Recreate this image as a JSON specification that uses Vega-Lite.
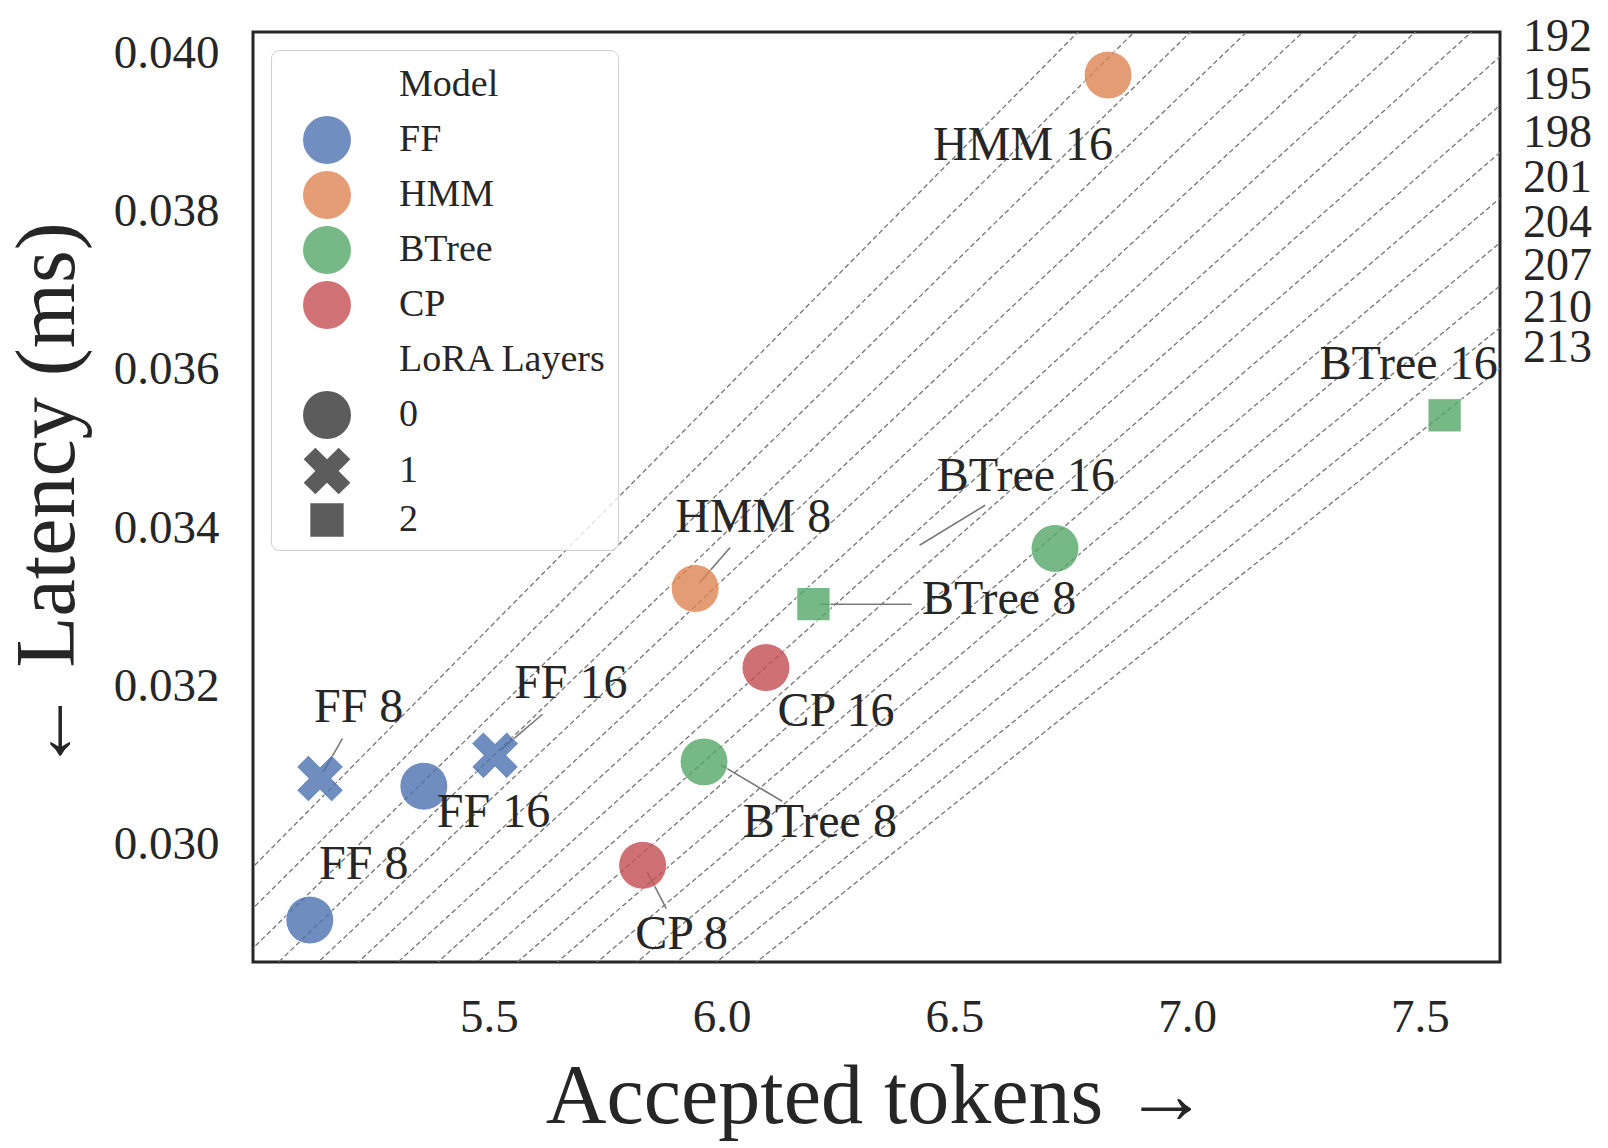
{
  "$schema": "https://vega.github.io/schema/vega-lite/v6.json",
  "width": 1247,
  "height": 930,
  "autosize": {"type": "none"},
  "padding": {"left": 253, "top": 32, "right": 108, "bottom": 186},
  "background": "white",
  "config": {
    "view": {"stroke": "#262626", "strokeWidth": 3},
    "font": "Liberation Serif",
    "axis": {
      "domain": false, "ticks": false, "grid": false,
      "labelFont": "Liberation Serif", "labelFontSize": 47, "labelColor": "#262626",
      "titleFont": "Liberation Serif", "titleFontSize": 84, "titleFontWeight": "normal", "titleColor": "#262626"
    }
  },
  "datasets": {
    "points": [
      {"model": "FF", "lora": "0", "n": 8, "tokens": 5.115, "latency": 0.02905, "label": "FF 8", "lx": 5.135, "ly": 0.029574},
      {"model": "FF", "lora": "0", "n": 16, "tokens": 5.360, "latency": 0.030741, "label": "FF 16", "lx": 5.388, "ly": 0.030227},
      {"model": "FF", "lora": "1", "n": 8, "tokens": 5.137, "latency": 0.030838, "label": "FF 8", "lx": 5.124, "ly": 0.031554},
      {"model": "FF", "lora": "1", "n": 16, "tokens": 5.513, "latency": 0.031132, "label": "FF 16", "lx": 5.554, "ly": 0.031861},
      {"model": "HMM", "lora": "0", "n": 8, "tokens": 5.943, "latency": 0.033239, "label": "HMM 8", "lx": 5.900, "ly": 0.033955},
      {"model": "HMM", "lora": "0", "n": 16, "tokens": 6.830, "latency": 0.039726, "label": "HMM 16", "lx": 6.454, "ly": 0.038653},
      {"model": "BTree", "lora": "0", "n": 8, "tokens": 5.962, "latency": 0.031048, "label": "BTree 8", "lx": 6.045, "ly": 0.030100},
      {"model": "BTree", "lora": "0", "n": 16, "tokens": 6.716, "latency": 0.033745, "label": "BTree 16", "lx": 6.462, "ly": 0.034473},
      {"model": "BTree", "lora": "2", "n": 8, "tokens": 6.197, "latency": 0.033041, "label": "BTree 8", "lx": 6.430, "ly": 0.032922},
      {"model": "BTree", "lora": "2", "n": 16, "tokens": 7.553, "latency": 0.035427, "label": "BTree 16", "lx": 7.284, "ly": 0.035881},
      {"model": "CP", "lora": "0", "n": 8, "tokens": 5.830, "latency": 0.029742, "label": "CP 8", "lx": 5.814, "ly": 0.028689},
      {"model": "CP", "lora": "0", "n": 16, "tokens": 6.095, "latency": 0.032240, "label": "CP 16", "lx": 6.120, "ly": 0.031499}
    ],
    "iso": [
      {"k": 168, "x1": 4.9, "y1": 0.0291667, "x2": 7.8, "y2": 0.0464286},
      {"k": 171, "x1": 4.9, "y1": 0.0286550, "x2": 7.8, "y2": 0.0456140},
      {"k": 174, "x1": 4.9, "y1": 0.0281609, "x2": 7.8, "y2": 0.0448276},
      {"k": 177, "x1": 4.9, "y1": 0.0276836, "x2": 7.8, "y2": 0.0440678},
      {"k": 180, "x1": 4.9, "y1": 0.0272222, "x2": 7.8, "y2": 0.0433333},
      {"k": 183, "x1": 4.9, "y1": 0.0267760, "x2": 7.8, "y2": 0.0426230},
      {"k": 186, "x1": 4.9, "y1": 0.0263441, "x2": 7.8, "y2": 0.0419355},
      {"k": 189, "x1": 4.9, "y1": 0.0259259, "x2": 7.8, "y2": 0.0412698},
      {"k": 192, "x1": 4.9, "y1": 0.0255208, "x2": 7.8, "y2": 0.0406250},
      {"k": 195, "x1": 4.9, "y1": 0.0251282, "x2": 7.8, "y2": 0.0400000},
      {"k": 198, "x1": 4.9, "y1": 0.0247475, "x2": 7.8, "y2": 0.0393939},
      {"k": 201, "x1": 4.9, "y1": 0.0243781, "x2": 7.8, "y2": 0.0388060},
      {"k": 204, "x1": 4.9, "y1": 0.0240196, "x2": 7.8, "y2": 0.0382353},
      {"k": 207, "x1": 4.9, "y1": 0.0236715, "x2": 7.8, "y2": 0.0376812},
      {"k": 210, "x1": 4.9, "y1": 0.0233333, "x2": 7.8, "y2": 0.0371429},
      {"k": 213, "x1": 4.9, "y1": 0.0230047, "x2": 7.8, "y2": 0.0366197}
    ],
    "isoLabels": [
      {"k": 192, "x": 7.672, "y": 0.0399583},
      {"k": 195, "x": 7.672, "y": 0.0393436},
      {"k": 198, "x": 7.672, "y": 0.0387475},
      {"k": 201, "x": 7.672, "y": 0.0381692},
      {"k": 204, "x": 7.672, "y": 0.0376078},
      {"k": 207, "x": 7.672, "y": 0.0370628},
      {"k": 210, "x": 7.672, "y": 0.0365333},
      {"k": 213, "x": 7.672, "y": 0.0360188}
    ],
    "leaders": [
      {"x1": 6.018, "y1": 0.033756, "x2": 5.952, "y2": 0.033310},
      {"x1": 6.211, "y1": 0.033040, "x2": 6.408, "y2": 0.033040},
      {"x1": 6.425, "y1": 0.033786, "x2": 6.566, "y2": 0.034291},
      {"x1": 5.999, "y1": 0.031007, "x2": 6.130, "y2": 0.030551},
      {"x1": 5.840, "y1": 0.029658, "x2": 5.881, "y2": 0.029194},
      {"x1": 5.144, "y1": 0.030921, "x2": 5.185, "y2": 0.031343},
      {"x1": 5.524, "y1": 0.031195, "x2": 5.615, "y2": 0.031650}
    ]
  },
  "layer": [
    {
      "data": {"name": "iso"},
      "mark": {"type": "rule", "clip": true, "color": "#757575", "strokeWidth": 1.3, "strokeDash": [5, 3]},
      "encoding": {
        "x": {"field": "x1", "type": "quantitative", "scale": {"domain": [4.993, 7.672], "nice": false, "zero": false}},
        "y": {"field": "y1", "type": "quantitative", "scale": {"domain": [0.02852, 0.04027], "nice": false, "zero": false}},
        "x2": {"field": "x2"},
        "y2": {"field": "y2"}
      }
    },
    {
      "data": {"name": "isoLabels"},
      "mark": {"type": "text", "align": "left", "baseline": "alphabetic", "dx": 23, "dy": -6, "fontSize": 46, "font": "Liberation Serif", "color": "#262626"},
      "encoding": {
        "x": {"field": "x", "type": "quantitative", "scale": {"domain": [4.993, 7.672], "nice": false, "zero": false}},
        "y": {"field": "y", "type": "quantitative", "scale": {"domain": [0.02852, 0.04027], "nice": false, "zero": false}},
        "text": {"field": "k", "type": "quantitative"}
      }
    },
    {
      "mark": {"type": "rect", "color": "#eef5fc"},
      "encoding": {
        "x": {"datum": 6.0396, "type": "quantitative", "scale": {"domain": [4.993, 7.672], "nice": false, "zero": false}},
        "x2": {"datum": 6.3775},
        "y": {"datum": 0.0305, "type": "quantitative", "scale": {"domain": [0.02852, 0.04027], "nice": false, "zero": false}},
        "y2": {"datum": 0.029953}
      }
    },
    {
      "data": {"name": "leaders"},
      "mark": {"type": "rule", "color": "#7a7a7a", "strokeWidth": 1.6},
      "encoding": {
        "x": {"field": "x1", "type": "quantitative", "scale": {"domain": [4.993, 7.672], "nice": false, "zero": false}},
        "y": {"field": "y1", "type": "quantitative", "scale": {"domain": [0.02852, 0.04027], "nice": false, "zero": false}},
        "x2": {"field": "x2"},
        "y2": {"field": "y2"}
      }
    },
    {
      "data": {"name": "points"},
      "mark": {"type": "point", "filled": true, "opacity": 0.8, "stroke": "white", "strokeWidth": 1},
      "encoding": {
        "x": {
          "field": "tokens", "type": "quantitative",
          "scale": {"domain": [4.993, 7.672], "nice": false, "zero": false},
          "axis": {"title": "Accepted tokens →", "values": [5.5, 6, 6.5, 7, 7.5], "format": ".1f", "labelPadding": 32, "titlePadding": 16, "labelFlush": false}
        },
        "y": {
          "field": "latency", "type": "quantitative",
          "scale": {"domain": [0.02852, 0.04027], "nice": false, "zero": false},
          "axis": {"title": "← Latency (ms)", "values": [0.030, 0.032, 0.034, 0.036, 0.038, 0.040], "format": ".3f", "labelPadding": 34, "titlePadding": 22, "labelFlush": false}
        },
        "color": {
          "field": "model", "type": "nominal",
          "scale": {"domain": ["FF", "HMM", "BTree", "CP"], "range": ["#4c72b0", "#dd8452", "#55a868", "#c44e52"]},
          "legend": null
        },
        "shape": {
          "field": "lora", "type": "nominal",
          "scale": {"domain": ["0", "1", "2"], "range": ["circle", "M0.471,-0.943L0.943,-0.471L0.471,0L0.943,0.471L0.471,0.943L0,0.471L-0.471,0.943L-0.943,0.471L-0.471,0L-0.943,-0.471L-0.471,-0.943L0,-0.471Z", "square"]},
          "legend": null
        },
        "size": {
          "field": "lora", "type": "nominal",
          "scale": {"type": "ordinal", "domain": ["0", "1", "2"], "range": [2300, 2450, 1110]},
          "legend": null
        }
      }
    },
    {
      "data": {"name": "points"},
      "mark": {"type": "text", "align": "left", "baseline": "alphabetic", "fontSize": 48, "font": "Liberation Serif", "color": "#262626"},
      "encoding": {
        "x": {"field": "lx", "type": "quantitative", "scale": {"domain": [4.993, 7.672], "nice": false, "zero": false}},
        "y": {"field": "ly", "type": "quantitative", "scale": {"domain": [0.02852, 0.04027], "nice": false, "zero": false}},
        "text": {"field": "label", "type": "nominal"}
      }
    },
    {
      "data": {"values": []},
      "mark": {"type": "point", "filled": true, "opacity": 0.8},
      "encoding": {
        "color": {
          "field": "entry", "type": "nominal",
          "scale": {
            "domain": ["Model", "FF", "HMM", "BTree", "CP", "LoRA Layers", "0", "1", "2"],
            "range": ["rgba(0,0,0,0)", "#4c72b0", "#dd8452", "#55a868", "#c44e52", "rgba(0,0,0,0)", "#333333", "#333333", "#333333"]
          },
          "legend": {
            "title": null, "orient": "top-left", "offset": 18, "padding": 11,
            "fillColor": "rgba(255,255,255,0.8)", "strokeColor": "#d0d0d0", "cornerRadius": 8,
            "labelFont": "Liberation Serif", "labelFontSize": 38, "labelColor": "#262626", "labelLimit": 400,
            "symbolStrokeWidth": 0, "symbolOffset": 20, "labelOffset": 47,
            "rowPadding": 6, "gridAlign": "all", "zindex": 1
          }
        },
        "shape": {
          "field": "entry", "type": "nominal",
          "scale": {
            "domain": ["Model", "FF", "HMM", "BTree", "CP", "LoRA Layers", "0", "1", "2"],
            "range": ["circle", "circle", "circle", "circle", "circle", "circle", "circle", "M0.471,-0.943L0.943,-0.471L0.471,0L0.943,0.471L0.471,0.943L0,0.471L-0.471,0.943L-0.943,0.471L-0.471,0L-0.943,-0.471L-0.471,-0.943L0,-0.471Z", "square"]
          }
        },
        "size": {
          "field": "entry", "type": "nominal",
          "scale": {
            "type": "ordinal",
            "domain": ["Model", "FF", "HMM", "BTree", "CP", "LoRA Layers", "0", "1", "2"],
            "range": [2300, 2300, 2300, 2300, 2300, 2300, 2300, 2450, 1110]
          }
        }
      }
    }
  ],
  "resolve": {"scale": {"color": "independent", "shape": "independent", "size": "independent"}}
}
